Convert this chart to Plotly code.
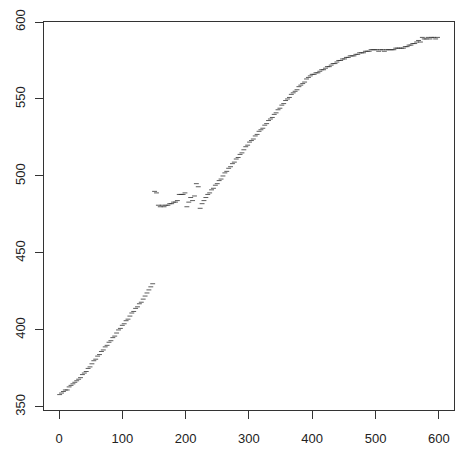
import plotly.graph_objects as go

x_index = list(range(1, 600, 3))

y_values = [
    358, 359, 360, 361, 361, 363, 364, 365, 366, 367,
    368, 369, 371, 372, 373, 375, 376, 378, 380, 381,
    383, 384, 386, 387, 389, 390, 392, 393, 395, 396,
    398, 400, 401, 403, 404, 406, 407, 409, 411, 412,
    414, 415, 417, 418, 420, 422, 424, 426, 428, 430,
    490, 489, 481, 480, 481, 480, 481, 481, 482, 482,
    483, 483, 484, 488, 488, 488, 489, 480, 483, 486,
    484, 487, 495, 493, 479, 482, 484, 486, 488, 489,
    491, 492, 494, 495, 497, 498, 500, 502, 503, 505,
    506, 508, 509, 511, 512, 514, 515, 517, 519, 520,
    522, 523, 524, 526, 527, 529, 530, 531, 533, 534,
    536, 537, 538, 540, 541, 543, 544, 546, 547, 549,
    550, 551, 553, 554, 555, 556, 558, 559, 560, 561,
    563, 564, 565, 566, 566, 567, 567, 568, 569, 569,
    570, 571, 571, 572, 573, 573, 574, 575, 575, 576,
    576, 577, 577, 578, 578, 578, 579, 579, 580, 580,
    580, 581, 581, 581, 582, 582, 582, 582, 581, 582,
    582, 581, 582, 582, 582, 582, 582, 583, 583, 583,
    583, 583, 584, 584, 585, 585, 586, 586, 587, 588,
    587, 590, 589, 589, 590, 589, 590, 590, 589, 590,
]

x_ticks = [0, 100, 200, 300, 400, 500, 600]
y_ticks = [350, 400, 450, 500, 550, 600]

fig = go.Figure()
fig.add_trace(go.Scatter(
    x=x_index, y=y_values, mode="markers",
    marker=dict(symbol="line-ew", size=3.5, line=dict(width=0.8, color="#333333")),
    hoverinfo="skip", showlegend=False,
))

axis_common = dict(
    showline=True, mirror=True, linecolor="#333333", linewidth=1,
    ticks="outside", ticklen=8, tickwidth=1, tickcolor="#333333",
    showgrid=False, zeroline=False, automargin=False,
    tickfont=dict(family="Liberation Sans, Arial, sans-serif", size=13, color="#222222"),
)

fig.update_layout(
    width=466, height=445,
    margin=dict(l=36, r=20, t=14, b=43, autoexpand=False),
    paper_bgcolor="white", plot_bgcolor="white",
    xaxis=dict(range=[-23.7, 624], tickvals=x_ticks, ticklabelstandoff=8, **axis_common),
    yaxis=dict(range=[348, 600], tickvals=y_ticks, tickangle=-90, ticklabelstandoff=5, **axis_common),
)

fig.write_html("out.html")
